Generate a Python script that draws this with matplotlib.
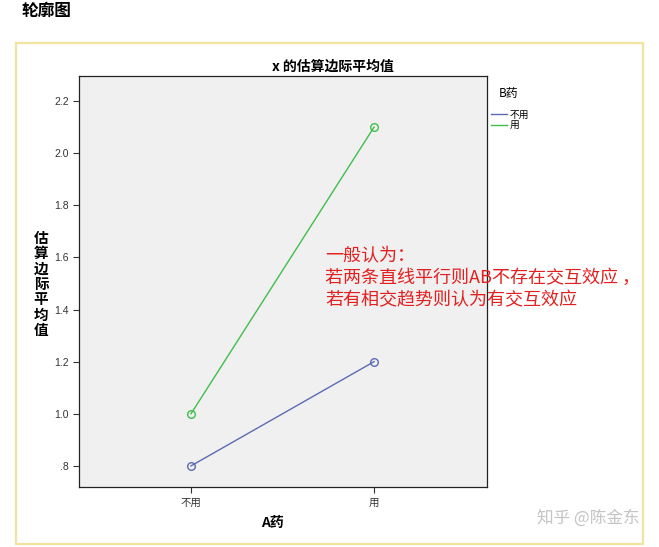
import matplotlib.pyplot as plt
from matplotlib.patches import Rectangle

plt.rcParams['font.family'] = ['Noto Sans CJK SC', 'DejaVu Sans']

# data
a_levels = ["不用", "用"]
b_levels = ["不用", "用"]
means_b_no = [0.8, 1.2]
means_b_yes = [1.0, 2.1]
y_ticks = [0.8, 1.0, 1.2, 1.4, 1.6, 1.8, 2.0, 2.2]
y_ticklabels = [".8", "1.0", "1.2", "1.4", "1.6", "1.8", "2.0", "2.2"]

W, H = 659, 547
fig = plt.figure(figsize=(W / 100, H / 100), dpi=100)

# outer yellow frame
fig.patches.append(Rectangle((16 / W, 1 - 544 / H), (643 - 16) / W, (544 - 43) / H,
                             transform=fig.transFigure, fill=False,
                             edgecolor="#f2e3a0", linewidth=1.6))

# axes box: x 79..487, y 76..487 (pixels from top)
ax = fig.add_axes([79 / W, 1 - 487 / H, (487 - 79) / W, (487 - 76) / H])
ax.set_facecolor("#f0f0f0")

x = range(len(a_levels))
ax.plot(x, means_b_no, color="#5b6bb3", linewidth=1, marker="o", markersize=5.5,
        markerfacecolor="none", markeredgewidth=1, label=b_levels[0])
ax.plot(x, means_b_yes, color="#3fbf4a", linewidth=1, marker="o", markersize=5.5,
        markerfacecolor="none", markeredgewidth=1, label=b_levels[1])

ax.set_xlim(-0.612, 1.617)
ax.set_ylim(0.719, 2.296)
ax.set_xticks(list(x))
ax.set_xticklabels(a_levels, fontsize=7.5, color="#333333")
ax.set_yticks(y_ticks)
ax.set_yticklabels(y_ticklabels, fontsize=7.5, color="#333333",
                   family=["Liberation Sans", "DejaVu Sans"])
ax.tick_params(axis="both", length=4, width=0.8, color="#333333")
for s in ax.spines.values():
    s.set_linewidth(0.9)
    s.set_color("#222222")

# titles and labels
fig.text(333 / W, 1 - 67 / H, "x 的估算边际平均值", ha="center", va="center",
         fontsize=10, fontweight="bold")
fig.text(272 / W, 1 - 523 / H, "A药", ha="center", va="center",
         fontsize=10, fontweight="bold")
fig.text(41 / W, 1 - 284 / H, "\n".join("估算边际平均值"), ha="center", va="center",
         fontsize=10.5, fontweight="bold", linespacing=0.95)
fig.text(22 / W, 1 - 11 / H, "轮廓图", ha="left", va="center",
         fontsize=12, fontweight="bold")

# legend
fig.text(499 / W, 1 - 93 / H, "B药", ha="left", va="center", fontsize=8.5)
ax.legend(loc="upper left", bbox_to_anchor=(486 / W, 1 - 105 / H),
          bbox_transform=fig.transFigure, frameon=False, fontsize=7,
          handlelength=1.7, handletextpad=0.2, labelspacing=0.05,
          borderpad=0, markerscale=0)

# annotation
fig.text(325 / W, 1 - 278 / H,
         "一般认为：\n若两条直线平行则AB不存在交互效应 ，\n若有相交趋势则认为有交互效应",
         ha="left", va="center", fontsize=13, color="#e3201f", linespacing=1.32)

# watermark
fig.text(640 / W, 1 - 518 / H, "知乎 @陈金东", ha="right", va="center",
         fontsize=12, color="#c4c4c4")

fig.savefig("out.png", dpi=100)
